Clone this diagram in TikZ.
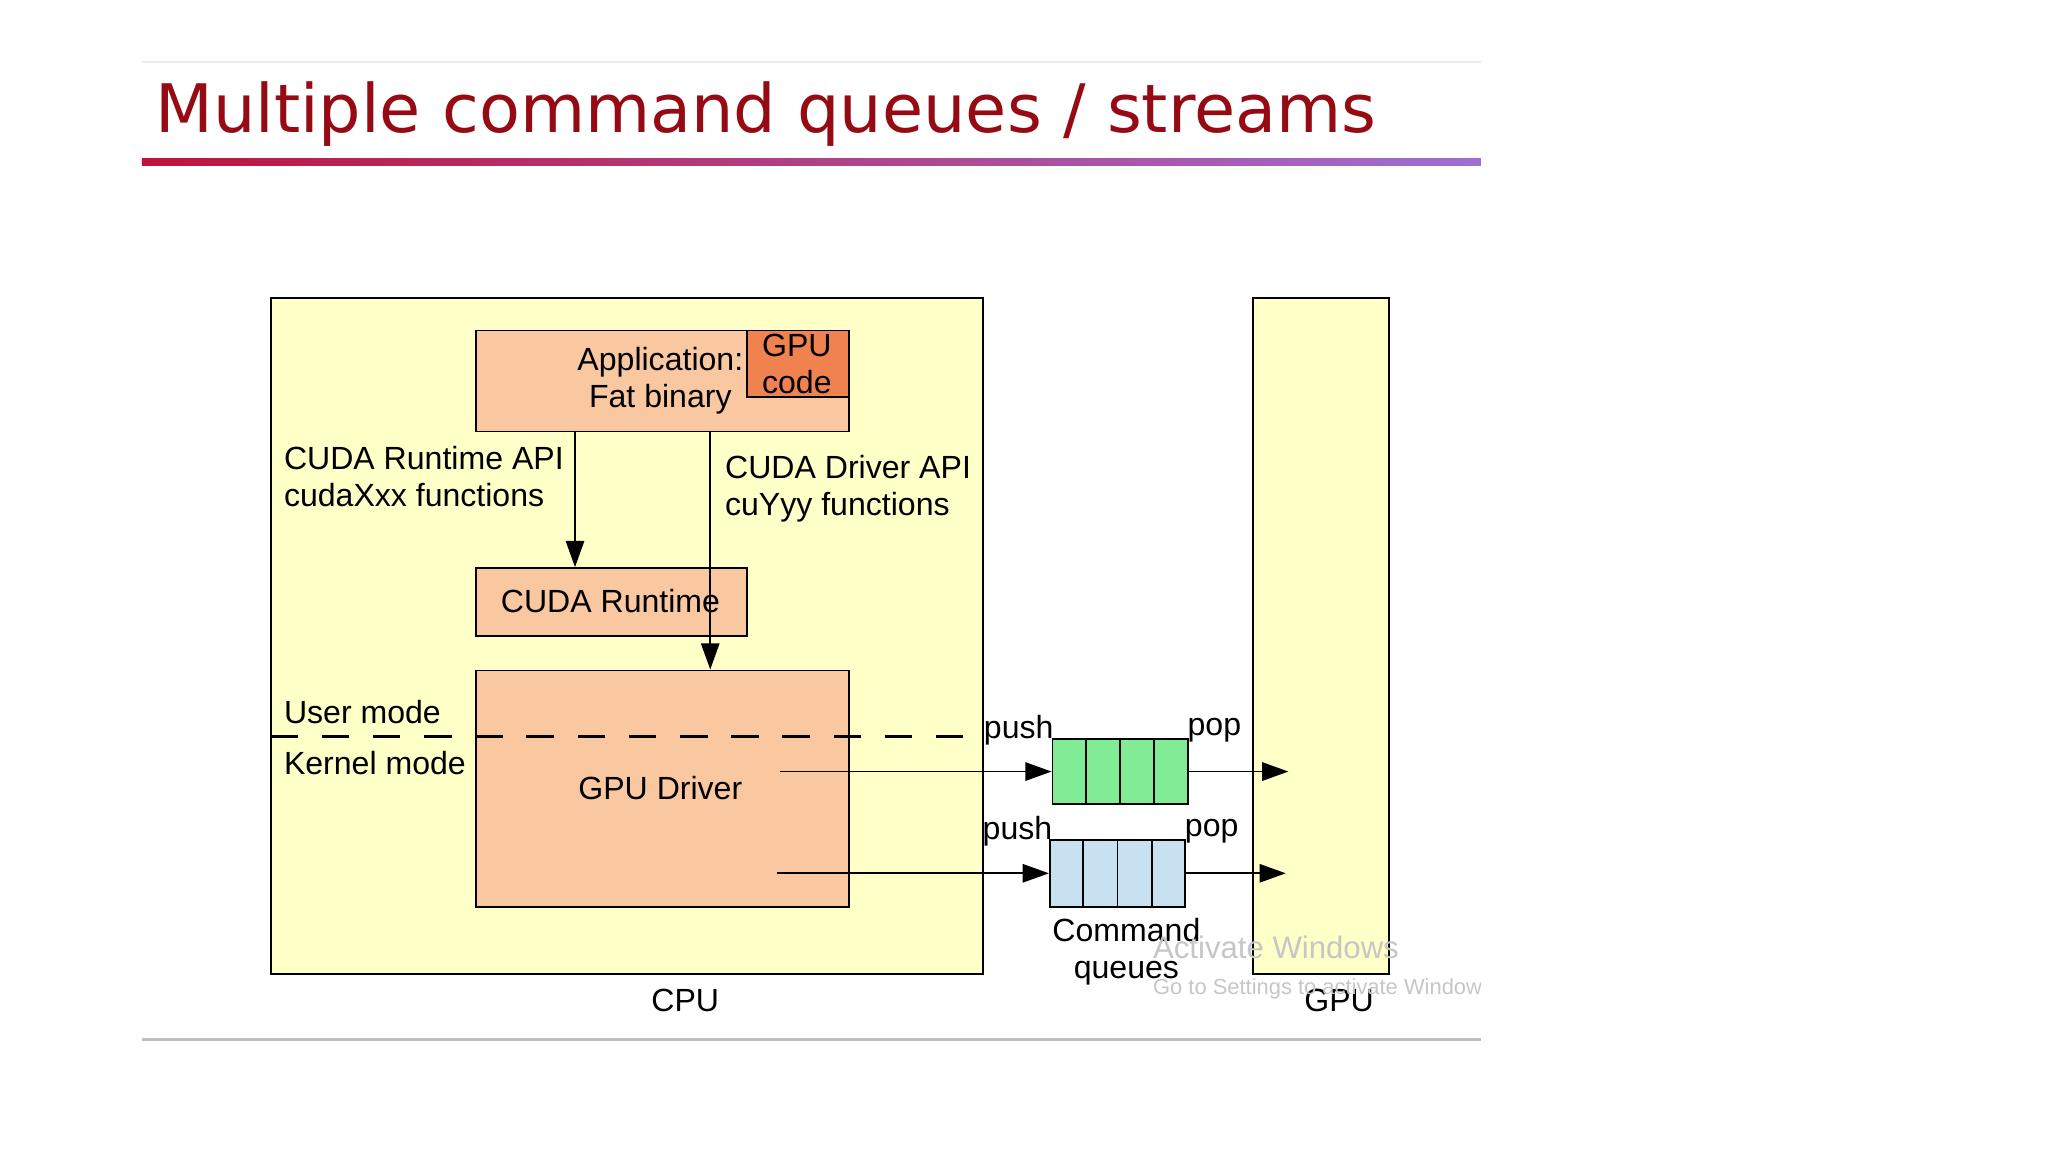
\documentclass[tikz,border=0pt]{standalone}
\usepackage{fontspec}
\setmainfont{Liberation Sans}
\newfontfamily\titlefont{DejaVu Sans}
\usetikzlibrary{arrows.meta,calc}
\definecolor{cpuY}{RGB}{255,255,200}
\definecolor{boxO}{RGB}{250,200,160}
\definecolor{codeO}{RGB}{240,130,80}
\definecolor{qG}{RGB}{130,235,150}
\definecolor{qB}{RGB}{200,225,240}
\definecolor{ttl}{RGB}{150,10,20}
\definecolor{barL}{RGB}{190,20,60}
\definecolor{barR}{RGB}{160,110,210}
\begin{document}
\begin{tikzpicture}[x=0.02cm,y=-0.02cm,
  box/.style={draw=black,line width=0.8pt},
  lbl/.style={font=\fontsize{13.9}{16}\selectfont,inner sep=0pt},
  arr/.style={-{Triangle[length=0.4cm,width=0.28cm]},line width=0.8pt}]
\useasboundingbox (0,0) rectangle (1560,877.5);
% header/footer
\draw[gray!15,line width=0.8pt] (108,47) -- (1128,47);
\shade[left color=barL,right color=barR] (108,121) rectangle (1128,126);
\draw[gray!50,line width=1.5pt] (108,792) -- (1128,792);
\node[anchor=base west,inner sep=0pt,text=ttl,font=\titlefont\fontsize{29}{33}\selectfont] (title) at (118,101) {Multiple command queues / streams};
% CPU and GPU
\node[box,fill=cpuY,minimum width=542*0.02cm,minimum height=515*0.02cm,anchor=north west] (cpu) at (206,226) {};
\node[box,fill=cpuY,minimum width=103*0.02cm,minimum height=515*0.02cm,anchor=north west] (gpu) at (954,226) {};
\node[lbl] (cpul) at (522,762) {CPU};
\node[lbl] (gpul) at (1020,762) {GPU};
% App
\node[box,fill=boxO,minimum width=284*0.02cm,minimum height=77*0.02cm,anchor=north west] (app) at (362,251) {};
\node[box,fill=codeO,minimum width=78*0.02cm,minimum height=51*0.02cm,anchor=north west] (code) at (568,251) {};
\node[lbl,align=center] (codet) at (607,277) {GPU\\code};
\node[lbl,align=center] (appt) at (503,290) {Application:\\Fat binary};
% runtime
\node[box,fill=boxO,minimum width=206*0.02cm,minimum height=52*0.02cm,anchor=north west] (rt) at (362,432) {};
\node[lbl] (rtt) at (465,458) {CUDA Runtime};
% driver
\node[box,fill=boxO,minimum width=284*0.02cm,minimum height=180*0.02cm,anchor=north west] (drv) at (362,510) {};
\node[lbl] (drvt) at (503,600) {GPU Driver};
% api arrows
\coordinate (a1) at (438,328); \coordinate (a1e) at (438,432);
\coordinate (a2) at (541,328); \coordinate (a2e) at (541,510);
\draw[arr] (a1) -- (a1e);
\draw[arr] (a2) -- (a2e);
\node[lbl,align=left,anchor=west] (rapi) at (216,363) {CUDA Runtime API\\cudaXxx functions};
\node[lbl,align=left,anchor=west] (dapi) at (552,372) {CUDA Driver API\\cuYyy functions};
% modes
\coordinate (d1) at (206,561); \coordinate (d2) at (748,561);
\draw[dash pattern=on 0.42cm off 0.36cm,line width=1pt] (d1) -- (d2);
\node[lbl,anchor=west] (um) at (216,542) {User mode};
\node[lbl,anchor=west] (km) at (216,581) {Kernel mode};
% queues
\node[box,fill=qG,minimum width=103*0.02cm,minimum height=50*0.02cm,anchor=north west] (q1) at (801,562) {};
\node[box,fill=qB,minimum width=103*0.02cm,minimum height=51*0.02cm,anchor=north west] (q2) at (799,639) {};
\foreach \i in {1,2,3}{
  \draw[line width=0.8pt] ($(q1.north west)!\i/4!(q1.north east)$) -- ($(q1.south west)!\i/4!(q1.south east)$);
  \draw[line width=0.8pt] ($(q2.north west)!\i/4!(q2.north east)$) -- ($(q2.south west)!\i/4!(q2.south east)$);
}
\coordinate (e1) at ($(q1.east)+(76,0)$);
\coordinate (e2) at ($(q2.east)+(76,0)$);
\coordinate (s1) at ($(q1.west)+(-207,0)$);
\coordinate (s2) at ($(q2.west)+(-207,0)$);
\draw[arr] (s1) -- (q1.west);
\draw[arr] (q1.east) -- (e1);
\draw[arr] (s2) -- (q2.west);
\draw[arr] (q2.east) -- (e2);
\node[lbl] (p1) at (776,556) {push};
\node[lbl] (p2) at (775,633) {push};
\node[lbl] (o1) at (925,556) {pop};
\node[lbl] (o2) at (923,633) {pop};
\node[lbl,align=center] (cq) at (858,725) {Command\\queues};
% watermark
\begin{scope}
\clip (0,0) rectangle (1128,877.5);
\node[inner sep=0pt,text=gray!45,font=\fontsize{13.5}{16}\selectfont,anchor=west] (wm1) at (878,722) {Activate Windows};
\node[inner sep=0pt,text=gray!45,font=\fontsize{9.5}{11}\selectfont,anchor=west] (wm2) at (878,753) {Go to Settings to activate Windows.};
\end{scope}
\end{tikzpicture}
\end{document}
